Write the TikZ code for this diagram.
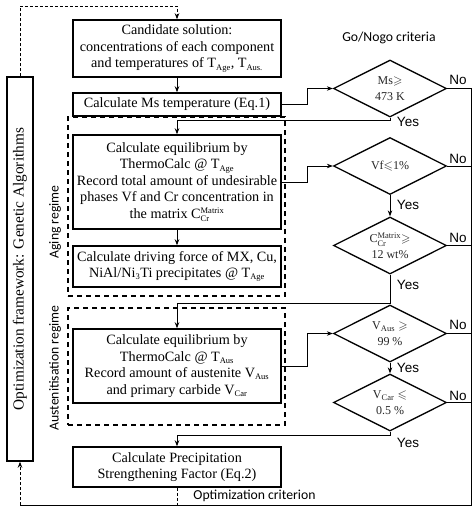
\documentclass[tikz,border=0pt]{standalone}
\usepackage{amsmath,amssymb}
\usepackage{fontspec}
\setmainfont{Liberation Serif}
\newfontfamily\calfont{Carlito}
\newfontfamily\arifont{Liberation Sans}
\usetikzlibrary{shapes.geometric,arrows.meta,calc}
\newcommand{\sbx}[1]{\text{\fontsize{8.5}{9}\selectfont #1}}
\newcommand{\ccrm}{C$_{\sbx{Cr}}^{\raisebox{-1pt}{\sbx{Matrix}}}$}
\begin{document}
\begin{tikzpicture}[x=1pt,y=-1pt,
  box/.style={draw,line width=1.5pt,minimum width=208pt,align=center,inner sep=0pt,font=\fontsize{14.2}{16.5}\selectfont},
  regime/.style={draw,line width=1.5pt,dash pattern=on 5pt off 4pt,minimum width=217pt,inner sep=0pt},
  dia/.style={draw,diamond,minimum width=113pt,minimum height=57pt,inner sep=0pt,line width=1.3pt},
  dtext/.style={align=center,inner sep=0pt,font=\fontsize{12}{16}\selectfont,text=black!85},
  yn/.style={inner sep=0pt,font=\arifont\fontsize{13.5}{15}\selectfont},
  cal/.style={inner sep=0pt,font=\calfont\fontsize{13.7}{15}\selectfont},
  conn/.style={line width=0.8pt},
  arr/.style={conn,-{Stealth[length=6pt,width=4.5pt]}},
  dconn/.style={line width=0.8pt,dash pattern=on 3pt off 2pt}
]
\useasboundingbox (0,0) rectangle (474,525);

% regime frames
\node[regime,minimum height=179pt] (agebox) at (176.5,206.5) {};
\node[regime,minimum height=117pt] (ausbox) at (176.5,366.5) {};
\node[cal,rotate=90] (agel) at (55,222) {Aging regime};
\node[cal,rotate=90] (ausl) at (55,368) {Austenitisation regime};

% boxes
\node[box,minimum height=57pt] (cand) at (177,48.5) {Candidate solution:\\concentrations of each component\\and temperatures of T$_{\sbx{Age}}$, T$_{\sbx{Aus.}}$};
\node[box,minimum height=23pt] (ms) at (177,104.5) {Calculate Ms temperature (Eq.1)};
\node[box,minimum height=94pt] (tc1) at (177,182) {Calculate equilibrium by\\ThermoCalc @ T$_{\sbx{Age}}$\\Record total amount of undesirable\\phases Vf and Cr concentration in\\the matrix \ccrm};
\node[box,minimum height=41pt] (drv) at (177,266.5) {Calculate driving force of MX, Cu,\\NiAl/Ni$_{\sbx{3}}$Ti precipitates @ T$_{\sbx{Age}}$};
\node[box,minimum height=74pt] (tc2) at (177,366) {Calculate equilibrium by\\ThermoCalc @ T$_{\sbx{Aus}}$\\Record amount of austenite V$_{\sbx{Aus}}$\\and primary carbide V$_{\sbx{Car}}$};
\node[box,minimum height=40pt] (prec) at (177,467) {Calculate Precipitation\\Strengthening Factor (Eq.2)};

% optimization framework
\node[draw,line width=1.5pt,minimum width=26pt,minimum height=384pt,inner sep=0pt] (opt) at (20,269) {};
\node[rotate=90,inner sep=0pt,font=\fontsize{15.3}{17}\selectfont] (optt) at (opt) {Optimization framework: Genetic Algorithms};

% criteria
\node[cal] (gng) at (389,38) {Go/Nogo criteria};
\node[dia] (d1) at (390,88.5) {};
\node[dtext] (d1t) at (390,89) {Ms$\geqslant$\\473 K};
\node[dia] (d2) at (390,166) {};
\node[dtext] (d2t) at (390,166) {Vf$\leqslant$1\%};
\node[dia] (d3) at (390,245.5) {};
\node[dtext] (d3t) at (390,246) {\ccrm$\geqslant$\\12 wt\%};
\node[dia] (d4) at (390,333.5) {};
\node[dtext] (d4t) at (390,334) {V$_{\sbx{Aus}}\geqslant$\\99 \%};
\node[dia] (d5) at (390,402.5) {};
\node[dtext] (d5t) at (390,403) {V$_{\sbx{Car}}\leqslant$\\0.5 \%};

% Yes / No labels
\node[yn] (y1) at (408,122) {Yes};
\node[yn] (y2) at (408,205) {Yes};
\node[yn] (y3) at (408,285) {Yes};
\node[yn] (y4) at (408,368) {Yes};
\node[yn] (y5) at (408,443) {Yes};
\node[yn] (n1) at (458,80) {No};
\node[yn] (n2) at (458,159) {No};
\node[yn] (n3) at (458,238) {No};
\node[yn] (n4) at (458,325) {No};
\node[yn] (n5) at (458,396) {No};
\node[cal] (oc) at (254.5,496) {Optimization criterion};

% coordinates
\coordinate (top) at (100,6);
\coordinate (rt) at (471,88.5);
\coordinate (rb) at (471,505);
\coordinate (lb) at (20,505);

% connectors
\draw[dconn,-{Stealth[length=6pt,width=4.5pt]}] (opt.north) |- (top) -| (cand.north);
\draw[arr] (cand.south) -- (ms.north);
\draw[arr] (ms.east) -- ++(26,0) |- (d1.west);
\draw[arr] (d1.south) -- ++(0,3) -| (tc1.north);
\draw[arr] (tc1.east) -- ++(26,0) |- (d2.west);
\draw[arr] (tc1.south) -- (drv.north);
\draw[arr] (d2.south) -- (d3.north);
\draw[arr] (d3.south) -- ++(0,28.5) -| (tc2.north);
\draw[arr] (tc2.east) -- ++(26,0) |- (d4.west);
\draw[arr] (d4.south) -- (d5.north);
\draw[arr] (d5.south) -- ++(0,3.5) -| (prec.north);
\draw[conn] (d1.east) -- (rt) -- (rb) -- (lb);
\draw[conn] (d2.east) -- (d2.east -| rt);
\draw[conn] (d3.east) -- (d3.east -| rt);
\draw[conn] (d4.east) -- (d4.east -| rt);
\draw[conn] (d5.east) -- (d5.east -| rt);
\draw[dconn] (prec.south) -- (prec.south |- lb);
\draw[dconn,-{Stealth[length=6pt,width=4.5pt]}] (lb) -- (opt.south);
\end{tikzpicture}
\end{document}
